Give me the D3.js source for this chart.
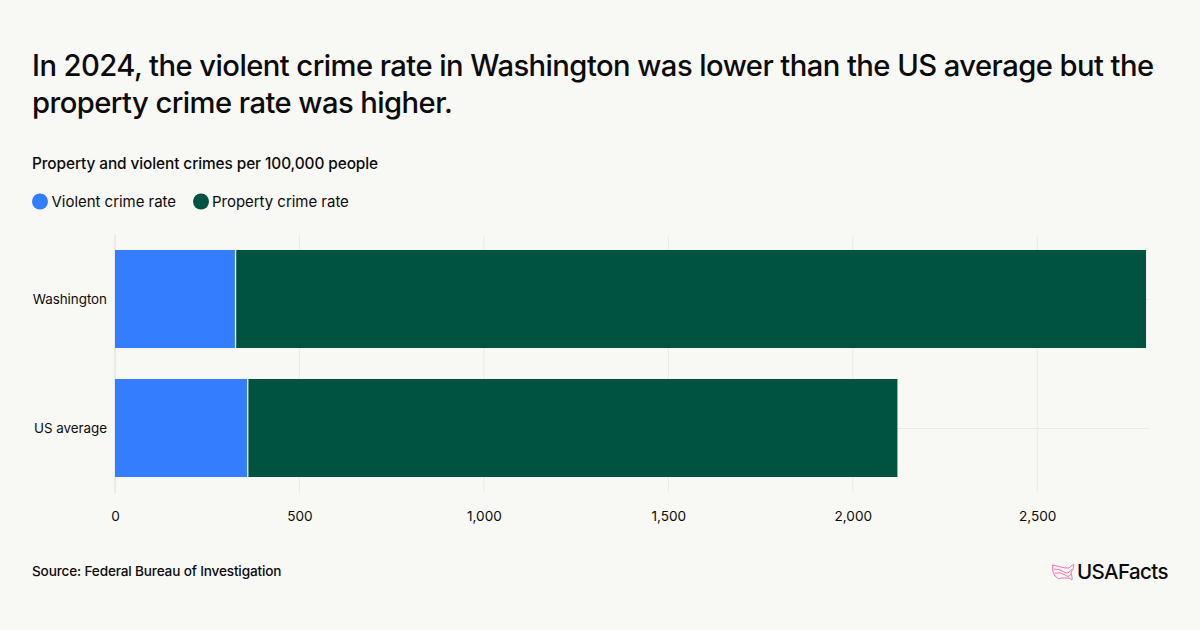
<!DOCTYPE html>
<html><head><meta charset="utf-8">
<script src="https://cdn.jsdelivr.net/npm/d3@7"></script>
<style>
html,body{margin:0;padding:0;background:#f8f8f4;}
svg{display:block;font-family:Inter,"Liberation Sans",sans-serif;}
text{fill:#0b0b0b;}
</style></head><body><div id="c"></div>
<script>
const categories = ["Washington", "US average"];
const violentRate = [326, 359];
const propertyRate = [2469, 1762];
const seriesNames = ["Violent crime rate", "Property crime rate"];
const seriesColors = ["#347dff", "#00543f"];
const xTicks = [0, 500, 1000, 1500, 2000, 2500];
const titleLines = ["In 2024, the violent crime rate in Washington was lower than the US average but the", "property crime rate was higher."];
const subtitle = "Property and violent crimes per 100,000 people";
const source = "Source: Federal Bureau of Investigation";
const logoText = "USAFacts";

const svg = d3.select("#c").append("svg").attr("width",1200).attr("height",630);
svg.append("rect").attr("width",1200).attr("height",630).attr("fill","#f8f8f4");

const x = d3.scaleLinear().domain([0,2803]).range([115,1149]);
const y = d3.scaleBand().domain(categories).range([234.5,492.5]).paddingInner(.24).paddingOuter(.12);

// title
svg.append("g").selectAll("text").data(titleLines).join("text")
  .attr("x",32).attr("y",(d,i)=>76+i*37).attr("font-size",29.2).attr("font-weight",500)
  .attr("letter-spacing",-0.56).text(d=>d);
svg.append("text").attr("x",32).attr("y",169).attr("font-size",15.4).attr("font-weight",500).attr("letter-spacing",-0.09).text(subtitle);

// legend
const legendX=[40,201], legendTextX=[51.5,212];
const lg=svg.append("g").selectAll("g").data(seriesNames).join("g");
lg.append("circle").attr("cx",(d,i)=>legendX[i]).attr("cy",201.5).attr("r",8).attr("fill",(d,i)=>seriesColors[i]);
lg.append("text").attr("x",(d,i)=>legendTextX[i]).attr("y",207).attr("font-size",15).attr("letter-spacing",-0.03).text(d=>d);

// grid
const grid=svg.append("g").attr("stroke","#e9e9e6").attr("stroke-width",1);
grid.selectAll(".v").data(xTicks).join("line").attr("class","v")
  .attr("x1",d=>x(d)).attr("x2",d=>x(d)).attr("y1",235).attr("y2",493)
  .attr("stroke",d=>d===0?"#dcdcd8":"#e9e9e6");
grid.selectAll(".h").data(categories).join("line").attr("class","h")
  .attr("x1",115).attr("x2",1149).attr("y1",d=>y(d)+y.bandwidth()/2+.5).attr("y2",d=>y(d)+y.bandwidth()/2+.5);

// bars
const rows=categories.map((c,i)=>({c,v:violentRate[i],p:propertyRate[i]}));
const stack=d3.stack().keys(["v","p"])(rows);
svg.append("g").selectAll("g").data(stack).join("g").attr("fill",(d,i)=>seriesColors[i])
  .selectAll("rect").data(d=>d).join("rect")
  .attr("x",d=>x(d[0])).attr("width",d=>x(d[1])-x(d[0]))
  .attr("y",d=>y(d.data.c)).attr("height",y.bandwidth());
// thin gap between the two segments
svg.append("g").selectAll("line").data(rows).join("line")
  .attr("x1",d=>x(d.v)+.3).attr("x2",d=>x(d.v)+.3)
  .attr("y1",d=>y(d.c)).attr("y2",d=>y(d.c)+y.bandwidth())
  .attr("stroke","#f8f8f4").attr("stroke-width",1.3);

// axes labels
const ax=d3.axisBottom(x).tickValues(xTicks).tickSize(0).tickFormat(d3.format(","));
const gx=svg.append("g").attr("transform","translate(0,511)").call(ax);
gx.select(".domain").remove();
gx.selectAll("text").attr("font-size",13.6).attr("font-family","Inter").attr("fill","#0b0b0b").attr("dy","0.71em").attr("y",0).attr("letter-spacing",0);
const ay=d3.axisLeft(y).tickSize(0).tickPadding(8);
const gy=svg.append("g").attr("transform","translate(115,1)").call(ay);
gy.select(".domain").remove();
gy.selectAll("text").attr("font-size",13.4).attr("font-family","Inter").attr("fill","#0b0b0b").attr("letter-spacing",-0.03);

// source
svg.append("text").attr("x",32).attr("y",576).attr("font-size",13.6).attr("font-weight",500).attr("letter-spacing",-0.16).text(source);

// logo
const lo=svg.append("g").attr("transform","translate(1052,564)").attr("fill","none").attr("stroke","#f264b4").attr("stroke-width",.9);
lo.append("path").attr("d","M0.5 1 L7 2.5 Q13 4.5 17 4 L19 2 L22 0.5 L21 5 L19 8 L20 13 L20 16 L17 14 L13 14 L9 14 L7 15 L3 12 L1 8 Z");
lo.append("path").attr("d","M2 5 Q8 5 12 8 T20 5 M3 9 Q9 8 13 11 T19 10");
svg.append("text").attr("x",1077).attr("y",579).attr("font-size",20.5).attr("font-weight",500).attr("letter-spacing",-0.6).text(logoText);
</script></body></html>
